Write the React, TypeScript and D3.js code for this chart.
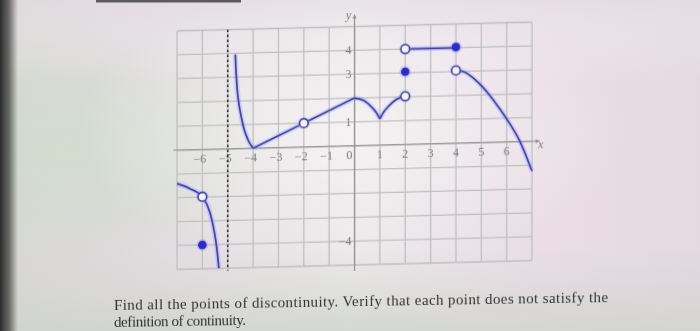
import React from "react";
import * as d3 from "d3";

const W = 700;
const H = 331;

// grid / axes ticks
const xTicks = [-6, -5, -4, -3, -2, -1, 0, 1, 2, 3, 4, 5, 6];
const yTickLabels = [4, 3, 1, -4];
const gridX = d3.range(-7, 8);
const gridY = d3.range(-5, 6);
const asymptoteX = -5;

// function pieces
const leftBranch: [number, number][] = [
  [-7, -1.4], [-6.5, -1.62], [-6, -1.98], [-5.7, -2.65], [-5.53, -3.45], [-5.42, -4.25], [-5.35, -5],
];
const asymBranch: [number, number][] = [
  [-4.7, 3.95], [-4.66, 3.0], [-4.6, 2.2], [-4.47, 1.34], [-4.3, 0.63], [-4.15, 0.25], [-4, 0],
];
const linePiece: [number, number][] = [[-4, 0], [0, 2]];
const cuspLeft: [number, number][] = [[0, 2], [0.35, 1.9], [0.65, 1.63], [0.85, 1.38], [1, 1.1]];
const cuspRight: [number, number][] = [[1, 1.1], [1.15, 1.38], [1.35, 1.63], [1.65, 1.9], [2, 2.02]];
const topSegment: [number, number][] = [[2, 4], [4, 4]];
const rightBranch: [number, number][] = [
  [4, 3.05], [4.35, 2.97], [4.7, 2.7], [5.05, 2.33], [5.4, 1.88], [5.75, 1.36], [6.1, 0.8], [6.5, 0.06], [7, -1.25],
];
const openPoints: [number, number][] = [[-6, -1.98], [-2, 1], [2, 2.02], [2, 4], [4, 3.05]];
const filledPoints: [number, number][] = [[-6, -4], [2, 3.05], [4, 4.03]];

const line1 = "Find all the points of discontinuity.  Verify that each point does not satisfy the";
const line2 = "definition of continuity.";

const BLUE = "#3a3ab8";

export default function App() {
  const x = d3.scaleLinear().domain([-7, 7]).range([177, 532]);
  const y = d3.scaleLinear().domain([-5, 5]).range([265, 26.5]);
  const k = -0.025;
  const x0 = x(0);
  const smooth = d3.line<[number, number]>().x((d) => x(d[0])).y((d) => y(d[1])).curve(d3.curveMonotoneX);
  const straight = d3.line<[number, number]>().x((d) => x(d[0])).y((d) => y(d[1]));
  const smoothY = d3.line<[number, number]>().x((d) => x(d[0])).y((d) => y(d[1])).curve(d3.curveMonotoneY);

  const pieces: string[] = [
    smooth(leftBranch) as string,
    smoothY(asymBranch) as string,
    straight(linePiece) as string,
    smooth(cuspLeft) as string,
    smooth(cuspRight) as string,
    straight(topSegment) as string,
    smooth(rightBranch) as string,
  ];

  const serif = "'Liberation Serif', 'DejaVu Serif', serif";

  return (
    <svg width={W} height={H} style={{ position: "absolute", left: 0, top: 0 }}>
      <defs>
        <linearGradient id="bgH" x1="0" x2="1" y1="0" y2="0">
          <stop offset="0" stopColor="#d7d6d3" />
          <stop offset="0.2" stopColor="#e0dbdf" />
          <stop offset="0.5" stopColor="#ebe9ea" />
          <stop offset="0.78" stopColor="#eadde6" />
          <stop offset="1" stopColor="#e4d8e1" />
        </linearGradient>
        <linearGradient id="bgV" x1="0" x2="0" y1="0" y2="1">
          <stop offset="0" stopColor="#e6dde4" stopOpacity="0.5" />
          <stop offset="0.25" stopColor="#ffffff" stopOpacity="0" />
          <stop offset="0.75" stopColor="#d4d7d0" stopOpacity="0" />
          <stop offset="1" stopColor="#cfd3cc" stopOpacity="0.8" />
        </linearGradient>
        <radialGradient id="green" cx="0.1" cy="0.45" r="0.35">
          <stop offset="0" stopColor="#cfdccb" stopOpacity="0.8" />
          <stop offset="1" stopColor="#cfdccb" stopOpacity="0" />
        </radialGradient>
        <radialGradient id="white" cx="0.5" cy="0.4" r="0.4">
          <stop offset="0" stopColor="#f6f4f4" stopOpacity="0.8" />
          <stop offset="1" stopColor="#f6f4f4" stopOpacity="0" />
        </radialGradient>
        <linearGradient id="dark" x1="0" x2="1" y1="0" y2="0">
          <stop offset="0" stopColor="#2a2a2a" stopOpacity="1" />
          <stop offset="0.5" stopColor="#3a3a3a" stopOpacity="0.7" />
          <stop offset="1" stopColor="#3a3a3a" stopOpacity="0" />
        </linearGradient>
        <filter id="blur1" x="-5%" y="-5%" width="110%" height="110%">
          <feGaussianBlur stdDeviation="0.45" />
        </filter>
      </defs>
      <rect x={0} y={0} width={W} height={H} fill="url(#bgH)" />
      <rect x={0} y={0} width={W} height={H} fill="url(#green)" />
      <rect x={0} y={0} width={W} height={H} fill="url(#white)" />
      <rect x={0} y={0} width={W} height={H} fill="url(#bgV)" />
      <rect x={0} y={0} width={18} height={H} fill="url(#dark)" />
      <rect x={96} y={0} width={145} height={2.5} fill="#3a3a3a" opacity={0.8} />

      <g transform={`matrix(1, ${k}, 0, 1, 0, ${-k * x0})`} filter="url(#blur1)">
        {/* grid */}
        {gridX.map((v) => (
          <line key={"gx" + v} x1={x(v)} x2={x(v)} y1={y(-5)} y2={y(5)} stroke="#c0bfc0" strokeWidth={1.3} />
        ))}
        {gridY.map((v) => (
          <line key={"gy" + v} x1={x(-7)} x2={x(7)} y1={y(v)} y2={y(v)} stroke="#c0bfc0" strokeWidth={1.3} />
        ))}
        {/* axes */}
        <line x1={x(-7.15)} x2={x(7.3)} y1={y(0)} y2={y(0)} stroke="#8e8e8e" strokeWidth={1.2} />
        <path d={`M${x(7.3)},${y(0)} l-4,-2 l0,4 z`} fill="#8e8e8e" />
        <line x1={x(0)} x2={x(0)} y1={y(-5.25)} y2={y(5.5)} stroke="#8e8e8e" strokeWidth={1.2} />
        <path d={`M${x(0)},${y(5.5)} l-2,4 l4,0 z`} fill="#8e8e8e" />
        <text x={x(0) - 6} y={y(5.5) + 4} fontFamily={serif} fontStyle="italic" fontSize={12} fill="#7e7e7e" textAnchor="middle">y</text>
        <text x={x(7.35)} y={y(0) + 7} fontFamily={serif} fontStyle="italic" fontSize={12} fill="#7e7e7e" textAnchor="middle">x</text>

        {/* tick labels */}
        {xTicks.map((v) => (
          <text key={"xt" + v} x={v === 0 ? x(0) - 5 : v < 0 ? x(v) - 2.5 : x(v)} y={y(0) + 13}
            fontFamily={serif} fontSize={12} fill="#7a7a7a" textAnchor="middle">
            {v < 0 ? "\u2212" + Math.abs(v) : String(v)}
          </text>
        ))}
        {yTickLabels.map((v) => (
          <text key={"yt" + v} x={x(0) - 3} y={y(v) + 4} fontFamily={serif} fontSize={12} fill="#7a7a7a" textAnchor="end">
            {v < 0 ? "\u2212" + Math.abs(v) : String(v)}
          </text>
        ))}

        {/* asymptote */}
        <line x1={x(asymptoteX)} x2={x(asymptoteX)} y1={y(5)} y2={y(-5.1)} stroke="#2e2e2e" strokeWidth={1.6} strokeDasharray="2.5,2.5" />

        {/* function */}
        {pieces.map((d, i) => (
          <path key={"g" + i} d={d} fill="none" stroke="#7f8cf0" strokeOpacity={0.28} strokeWidth={5} strokeLinejoin="round" />
        ))}
        {pieces.map((d, i) => (
          <path key={"p" + i} d={d} fill="none" stroke={BLUE} strokeWidth={1.7} strokeLinejoin="round" />
        ))}
        {filledPoints.map((p, i) => (
          <g key={"f" + i}>
            <circle cx={x(p[0])} cy={y(p[1])} r={6} fill="#7f8cf0" opacity={0.3} />
            <circle cx={x(p[0])} cy={y(p[1])} r={4.3} fill="#2b2bd0" />
          </g>
        ))}
        {openPoints.map((p, i) => (
          <g key={"o" + i}>
            <circle cx={x(p[0])} cy={y(p[1])} r={6.2} fill="#7f8cf0" opacity={0.3} />
            <circle cx={x(p[0])} cy={y(p[1])} r={4.3} fill="#f6f6ff" stroke={BLUE} strokeWidth={1.6} />
          </g>
        ))}
      </g>

      <g transform={`matrix(1, -0.016, 0, 1, 0, ${0.016 * 114})`} filter="url(#blur1)">
        <text x={114} y={310} fontFamily={serif} fontSize={15} fill="#333333" textLength={494} lengthAdjust="spacing">{line1}</text>
        <text x={114} y={327} fontFamily={serif} fontSize={15} fill="#333333" textLength={132} lengthAdjust="spacing">{line2}</text>
      </g>
    </svg>
  );
}
